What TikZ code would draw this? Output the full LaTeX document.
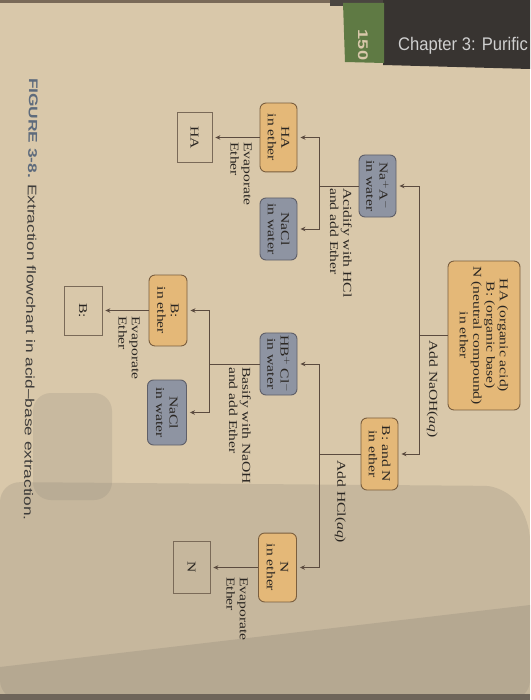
\documentclass[tikz,border=0pt]{standalone}
\usepackage{fontspec}
\setmainfont{Liberation Serif}
\newfontfamily\capfont{Liberation Sans}
\usetikzlibrary{arrows.meta}
\definecolor{paper}{HTML}{D9C8AA}
\definecolor{shadowc}{HTML}{8E8678}
\definecolor{orangef}{HTML}{E4B878}
\definecolor{orangel}{HTML}{7A5E3E}
\definecolor{grayf}{HTML}{8E94A2}
\definecolor{grayl}{HTML}{5F5F68}
\definecolor{plainl}{HTML}{7A6A58}
\definecolor{linec}{HTML}{5B4B3F}
\definecolor{inkc}{HTML}{2A2622}
\definecolor{bandc}{HTML}{383431}
\definecolor{topdark}{HTML}{4A4540}
\definecolor{greenc}{HTML}{5F7A44}
\definecolor{hdrc}{HTML}{CFCFCF}
\definecolor{figc}{HTML}{5E6B7C}
\definecolor{capc}{HTML}{3E3C3A}
\definecolor{edgec}{HTML}{6E655A}
\tikzset{
  fc/.style={rotate=-90, xscale=1.3, font=\fontsize{12}{13.3}\selectfont, text=inkc, align=center, inner sep=0pt},
  obox/.style={fc, draw=orangel, fill=orangef, rounded corners=6pt, line width=0.9pt},
  gbox/.style={fc, draw=grayl, fill=grayf, rounded corners=6pt, line width=0.9pt},
  pbox/.style={fc, draw=plainl, line width=0.7pt},
  lbl/.style={fc, align=left, anchor=north west},
  ln/.style={draw=linec, line width=0.9pt},
  arr/.style={ln, -{Stealth[length=5pt,width=4.5pt]}, shorten >=3pt},
}
\begin{document}
\begin{tikzpicture}[x=1pt,y=-1pt]
\useasboundingbox (0,0) rectangle (530,700);
% paper and photo shading
\fill[paper] (0,0) rectangle (530,700);
\fill[shadowc, opacity=0.22, rounded corners=18pt] (33,393) rectangle (112,500);
\fill[shadowc, opacity=0.25, rounded corners=20pt] (0,482) -- (505,486) -- (530,520) -- (530,700) -- (0,700) -- cycle;
\fill[shadowc, opacity=0.3] (0,667) -- (530,605) -- (530,700) -- (0,700) -- cycle;
\fill[edgec] (0,694) rectangle (530,700);
% header
\fill[plainl] (0,0) rectangle (340,3);
\fill[topdark] (330,0) rectangle (530,6);
\fill[bandc] (383,0) -- (530,0) -- (530,69) -- (383,65) -- cycle;
\fill[greenc] (343,3) -- (384,3) -- (384,63) -- (345,62) -- cycle;
\node[rotate=-90, xscale=1.3, font=\capfont\bfseries\fontsize{14}{14}\selectfont, text=paper, inner sep=0pt] (pg) at (363,45) {150};
\node[font=\capfont\fontsize{16.6}{16.6}\selectfont, yscale=1.1, text=hdrc, anchor=base west, inner sep=0pt] (hdr) at (398,51) {Chapter 3: Purific};
% boxes
\node[obox, minimum width=114.6pt, minimum height=72pt] (top) at (484,335.5) {HA (organic acid)\\B: (organic base)\\N (neutral compound)\\in ether};
\node[gbox, minimum width=47.7pt, minimum height=37pt] (naa) at (377.5,186) {Na$^{+}$A$^{-}$\\in water};
\node[obox, minimum width=55.4pt, minimum height=37pt] (bn) at (379.5,454) {B: and N\\in ether};
\node[obox, minimum width=53pt, minimum height=37pt] (haeth) at (278.5,137.5) {HA\\in ether};
\node[gbox, minimum width=47.7pt, minimum height=37pt] (nacl1) at (278.5,229) {NaCl\\in water};
\node[gbox, minimum width=47.7pt, minimum height=37pt] (hbcl) at (278.5,364) {HB$^{+}$\,Cl$^{-}$\\in water};
\node[obox, minimum width=53pt, minimum height=38pt] (neth) at (277.5,567.5) {N\\in ether};
\node[pbox, minimum width=38.5pt, minimum height=35pt] (ha) at (194.5,137.5) {HA};
\node[obox, minimum width=54.6pt, minimum height=38pt] (beth) at (168,310.5) {B:\\in ether};
\node[gbox, minimum width=50pt, minimum height=39pt] (nacl2) at (167,412.5) {NaCl\\in water};
\node[pbox, minimum width=37.7pt, minimum height=38pt] (bpl) at (83,310.5) {B:};
\node[pbox, minimum width=40pt, minimum height=37pt] (npl) at (191.5,567.5) {N};
% connectors
\path (top.south) ++(-28,0) coordinate (j1);
\draw[ln] (top.south) -- (j1);
\draw[arr] (j1) |- (naa.north);
\draw[arr] (j1) |- (bn.north);
\path (naa.south) ++(-39,0) coordinate (j2);
\draw[ln] (naa.south) -- (j2);
\draw[arr] (j2) |- (haeth.north);
\draw[arr] (j2) |- (nacl1.north);
\path (bn.south) ++(-41,0) coordinate (j3);
\draw[ln] (bn.south) -- (j3);
\draw[arr] (j3) |- (hbcl.north);
\draw[arr] (j3) |- (neth.north);
\path (hbcl.south) ++(-50,0) coordinate (j4);
\draw[ln] (hbcl.south) -- (j4);
\draw[arr] (j4) |- (beth.north);
\draw[arr] (j4) |- (nacl2.north);
\draw[arr] (haeth.south) -- (ha.north);
\draw[arr] (beth.south) -- (bpl.north);
\draw[arr] (neth.south) -- (npl.north);
% labels
\node[lbl] (l1) at (438,340) {Add NaOH(\textit{aq})};
\node[lbl] (l2) at (352,188) {Acidify with HCl\\and add Ether};
\node[lbl] (l3) at (252,142) {Evaporate\\Ether};
\node[lbl] (l4) at (346,460) {Add HCl(\textit{aq})};
\node[lbl] (l5) at (251,367) {Basify with NaOH\\and add Ether};
\node[lbl] (l6) at (140,316) {Evaporate\\Ether};
\node[lbl] (l7) at (248,577) {Evaporate\\Ether};
% caption
\node[rotate=-90.7, xscale=1.38, anchor=north west, inner sep=0pt, font=\capfont\fontsize{12.5}{14}\selectfont, text=capc] (cap) at (38.5,78) {{\bfseries\color{figc}FIGURE 3-8.} Extraction flowchart in acid–base extraction.};
\end{tikzpicture}
\end{document}
